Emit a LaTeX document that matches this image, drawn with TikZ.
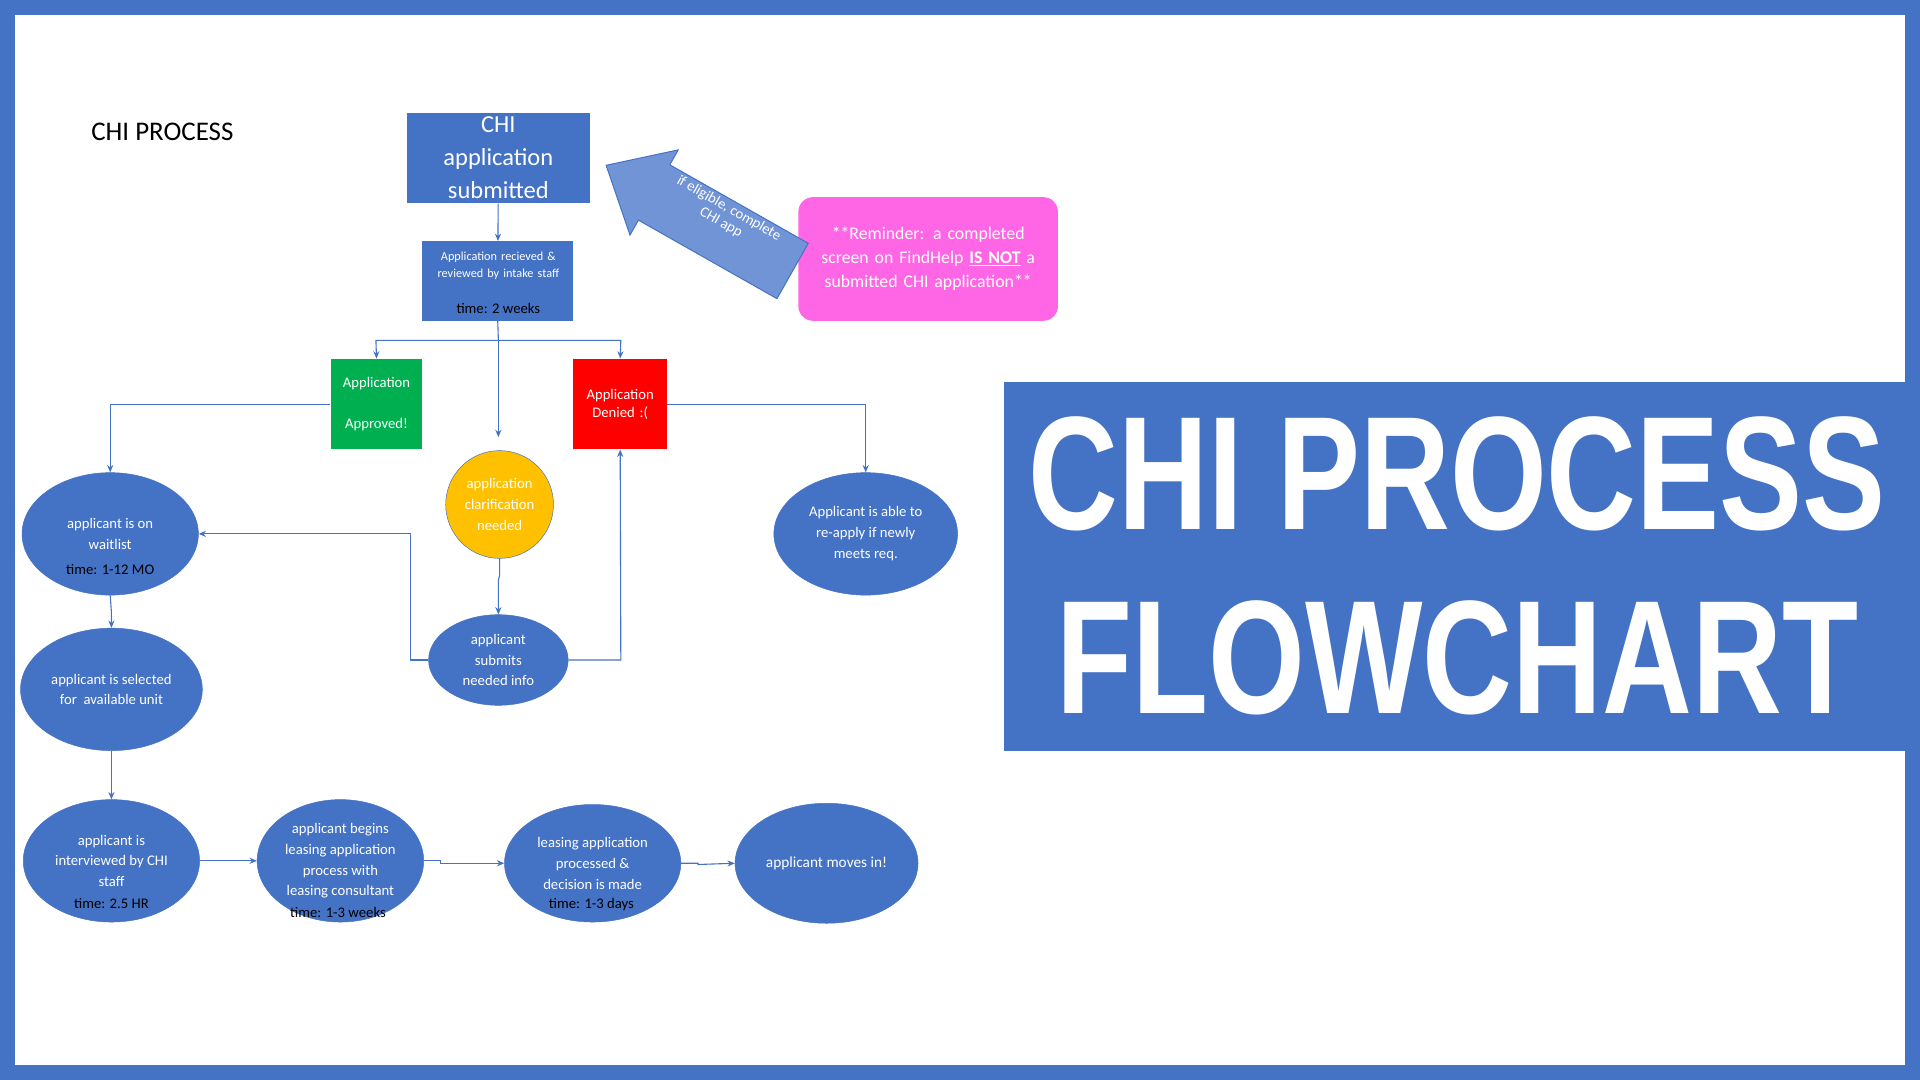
\documentclass[tikz,border=0pt]{standalone}
\usepackage{fontspec}
\setmainfont{Carlito}
\newfontfamily\bigsans{Liberation Sans}
\usetikzlibrary{arrows.meta,shapes.geometric}
\definecolor{bl}{HTML}{4472C4}
\definecolor{gr}{HTML}{00B050}
\definecolor{yl}{HTML}{FFC000}
\definecolor{pk}{HTML}{FF66E6}
\definecolor{la}{HTML}{7094D6}
\begin{document}
\begin{tikzpicture}[x=1pt,y=-1pt,
  txt/.style={text=white,align=center,font=\fontsize{12}{14.5}\selectfont},
  el/.style={ellipse,fill=bl,draw=bl,txt},
  ln/.style={draw=bl,line width=0.9pt},
  ar/.style={ln,-{Stealth[length=6pt,width=5pt]}}]
\fill[bl] (0,0) rectangle (1568,882);
\fill[white] (12,12) rectangle (1556,870);
\useasboundingbox (0,0) rectangle (1568,882);
\node[anchor=west,font=\fontsize{22}{26}\selectfont] (title) at (71,108) {CHI PROCESS};
\node[fill=bl,minimum width=150pt,minimum height=74pt,txt,font=\fontsize{20}{27}\selectfont] (sub) at (407,129) {CHI\\application\\submitted};
\node[fill=bl,minimum width=123pt,minimum height=65pt] (rev) at (406.5,229.5) {};
\node[txt,font=\fontsize{10}{13.5}\selectfont,text width=100pt] (revt) at (407,217) {Application recieved \& reviewed by intake staff};
\node[font=\fontsize{12}{14}\selectfont] (revtime) at (407,252) {time: 2 weeks};
\node[fill=gr,minimum width=75pt,minimum height=74pt] (app) at (307.5,330) {};
\node[txt] (appt1) at (307.5,313) {Application};
\node[txt] (appt2) at (307.5,347) {Approved!};
\node[fill=red,minimum width=75pt,minimum height=74pt,txt,text width=70pt] (den) at (506.5,330) {Application Denied :(};
\node[circle,fill=yl,draw=bl,minimum size=88pt,inner sep=0pt,txt,font=\fontsize{12}{17}\selectfont] (cl) at (408,412) {application\\clarification\\needed};
\node[el,minimum width=144pt,minimum height=100pt] (wait) at (90,436) {};
\node[txt,font=\fontsize{12}{17}\selectfont] (waitt) at (90,436) {applicant is on\\waitlist};
\node[font=\fontsize{12}{14}\selectfont] (waittime) at (90,465) {time: 1-12 MO};
\node[el,minimum width=150pt,minimum height=100pt,font=\fontsize{12}{17}\selectfont] (re) at (707,436) {Applicant is able to\\re-apply if newly\\meets req.};
\node[el,minimum width=114pt,minimum height=74pt,font=\fontsize{12}{17}\selectfont] (subm) at (407,539) {applicant\\submits\\needed info};
\node[el,minimum width=144pt,minimum height=100pt,font=\fontsize{12}{17}\selectfont] (sel) at (91,563) {applicant is selected\\for\ \ available unit};
\node[el,minimum width=144pt,minimum height=100pt] (int) at (91,703) {};
\node[txt,font=\fontsize{12}{17}\selectfont] (intt) at (91,703) {applicant is\\interviewed by CHI\\staff};
\node[font=\fontsize{12}{14}\selectfont] (inttime) at (91,738) {time: 2.5 HR};
\node[el,minimum width=136pt,minimum height=100pt] (beg) at (278,703) {};
\node[txt,font=\fontsize{12}{17}\selectfont] (begt) at (278,703) {applicant begins\\leasing application\\process with\\leasing consultant};
\node[font=\fontsize{12}{14}\selectfont] (begtime) at (276,745) {time: 1-3 weeks};
\node[el,minimum width=144pt,minimum height=96pt] (lea) at (484,705) {};
\node[txt,font=\fontsize{12}{17}\selectfont] (leat) at (484,705) {leasing application\\processed \&\\decision is made};
\node[font=\fontsize{12}{14}\selectfont] (leatime) at (483,739) {time: 1-3 days};
\node[el,minimum width=144pt,minimum height=98pt,font=\fontsize{12.5}{15}\selectfont] (mov) at (675,705) {applicant moves in!};
% pink
\node[fill=pk,rounded corners=12pt,minimum width=212pt,minimum height=101pt,txt,font=\fontsize{14.5}{19.5}\selectfont,text width=205pt] (pink) at (758,211.5) {**Reminder: a completed\\ screen on FindHelp \underline{\textbf{IS NOT}} a\\ submitted CHI application**};
% block arrow
\draw[fill=la,draw=bl,line width=0.8pt] (495,135) -- (553.9,122.4) -- (547.0,134.6) -- (660.1,198.7) -- (634.5,243.9) -- (521.4,179.8) -- (514.5,192.0) -- cycle;
\node[rotate=-29.5,txt,font=\fontsize{12}{13}\selectfont] (arl) at (592,176) {if eligible, complete\\CHI app};
% big title
\node[fill=bl,minimum width=737pt,minimum height=301pt] (bigbox) at (1188.5,462.5) {};
\node[text=white,font=\bigsans\bfseries\fontsize{132}{150}\selectfont,align=center] (bigt) at (1190,462) {\scalebox{0.77}[1]{CHI PROCESS}\\\scalebox{0.77}[1]{FLOWCHART}};
% connectors
\draw[ar] (sub) -- (rev);
\draw[ln] (rev.south) -- (407,278) coordinate (j);
\draw[ar] (j) -- (307,278) -- (app.north);
\draw[ar] (j) -- (507,278) -- (den.north);
\draw[ar] (j) -- (407,357);
\draw[ar] (app.west) -| (wait.north);
\draw[ar] (den.east) -| (re.north);
\draw[ar] (cl.south) -- (408,470) -- (407,474) -- (subm.north);
\draw[ar] (subm.west) -- (335,539) -- (335,436) -- (wait.east);
\draw[ar] (subm.east) -- (507,539) -- (den.south);
\draw[ar] (wait.south) -- (91,500) -- (sel.north);
\draw[ar] (sel.south) -- (int.north);
\draw[ar] (int.east) -- (beg.west);
\draw[ar] (beg.east) -- (360,703) -- (360,705) -- (lea.west);
\draw[ar] (lea.east) -- (570,705) -- (570,706) -- (mov.west);
\end{tikzpicture}
\end{document}
